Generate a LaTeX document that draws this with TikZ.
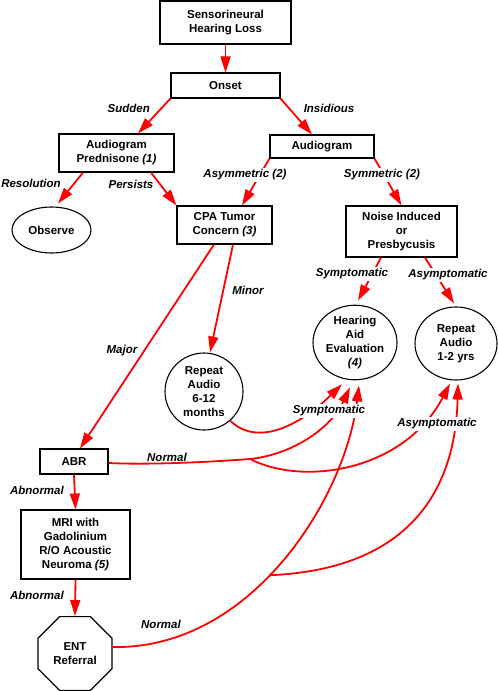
\documentclass[tikz,border=0pt]{standalone}
\usepackage{fontspec}
\setmainfont{Liberation Sans}
\usetikzlibrary{arrows.meta,shapes.geometric}
\newcommand{\nodefnt}{\fontsize{11.5}{14}\selectfont\bfseries}
\newcommand{\labfnt}{\fontsize{11.5}{14}\selectfont\bfseries\itshape}
\tikzset{
  box/.style={draw=black, line width=1.1pt, fill=white, rectangle, inner sep=0pt, align=center, font=\nodefnt},
  oval/.style={draw=black, line width=1.1pt, fill=white, ellipse, inner sep=0pt, align=center, font=\nodefnt},
  octa/.style={draw=black, line width=1.1pt, fill=white, regular polygon, regular polygon sides=8, inner sep=0pt, minimum size=80pt, align=center, font=\nodefnt},
  lab/.style={font=\labfnt, inner sep=1pt},
  labw/.style={lab, fill=white, inner sep=1.5pt},
  arr/.style={draw=red, line width=1.8pt, -{Triangle[length=16pt,width=10pt]}},
}
\begin{document}
\begin{tikzpicture}[x=1pt,y=-1pt]
\fill[white] (0,0) rectangle (498,691);
\path[use as bounding box] (0,0) rectangle (498,691);
% nodes
\node[box, minimum width=131pt, minimum height=43pt] (shl) at (225.5,22.5) {Sensorineural\\Hearing Loss};
\node[box, minimum width=109pt, minimum height=25pt] (onset) at (225.5,85.5) {Onset};
\node[box, minimum width=115pt, minimum height=38pt] (aud1) at (116.5,153) {Audiogram\\Prednisone \textit{(1)}};
\node[box, minimum width=104pt, minimum height=23pt] (aud2) at (322,146.5) {Audiogram};
\node[oval, minimum width=79pt, minimum height=46pt] (observe) at (51.5,230) {Observe};
\node[box, minimum width=95pt, minimum height=38pt] (cpa) at (224.5,225) {CPA Tumor\\Concern \textit{(3)}};
\node[box, minimum width=111pt, minimum height=51pt] (noise) at (401.5,231.5) {Noise Induced\\or\\Presbycusis};
\node[oval, minimum width=78pt, minimum height=77pt] (rep6) at (204,391.5) {Repeat\\Audio\\6-12\\months};
\node[oval, minimum width=84pt, minimum height=71pt] (ha) at (355,342.5) {Hearing\\Aid\\Evaluation\\\textit{(4)}};
\node[oval, minimum width=82pt, minimum height=73pt] (r12) at (456,343.5) {Repeat\\Audio\\1-2 yrs};
\node[box, minimum width=68pt, minimum height=25pt] (abr) at (74,461.5) {ABR};
\node[box, minimum width=109pt, minimum height=69pt] (mri) at (75.5,544.5) {MRI with\\Gadolinium\\R/O Acoustic\\Neuroma \textit{(5)}};
\node[octa] (ent) at (75,653.5) {ENT\\Referral};
% straight connectors
\draw[arr] (shl.south) -- (onset.north);
\draw[arr] (onset.south west) -- ([xshift=21.5pt]aud1.north);
\draw[arr] (onset.south east) -- ([xshift=-10pt]aud2.north);
\draw[arr] ([xshift=-33.5pt]aud1.south) -- ([shift={(6.5pt,3pt)}]observe.north);
\draw[arr] ([xshift=34.5pt]aud1.south) -- (cpa.north west);
\draw[arr] (aud2.south west) -- ([xshift=17.5pt]cpa.north);
\draw[arr] (aud2.south east) -- (noise.north);
\draw[arr] ([xshift=-10.5pt]cpa.south) -- ([xshift=6pt]abr.north);
\draw[arr] ([xshift=8.5pt]cpa.south) -- ([xshift=6pt]rep6.north);
\draw[arr] ([xshift=-20.5pt]noise.south) -- ([shift={(3pt,4pt)}]ha.north);
\draw[arr] ([xshift=23.5pt]noise.south) -- ([shift={(-2pt,3pt)}]r12.north);
\draw[arr] (abr.south) -- (mri.north);
\draw[arr] (mri.south) -- (ent.north);
% curved connectors
\coordinate (fork1) at (250,459);
\draw[arr] (rep6.312) .. controls (255,445) and (295,430) .. ([shift={(-13pt,-4pt)}]ha.south);
\draw[arr] ([yshift=-1.5pt]abr.east) .. controls (150,465) and (210,462) .. (fork1)
  .. controls (290,455) and (330,430) .. ([shift={(-5pt,-7pt)}]ha.south);
\draw[arr] (fork1) .. controls (305,487) and (405,470) .. ([shift={(-6pt,-3pt)}]r12.south);
\draw[arr] ([yshift=6.5pt]ent.east) .. controls (250,650) and (345,500) .. ([shift={(4pt,-5pt)}]ha.south) coordinate[pos=0.45] (fork2);
\draw[arr] (fork2) .. controls (400,570) and (455,500) .. ([shift={(2pt,-3pt)}]r12.south);
% labels
\node[lab, anchor=east] (lsud) at (151,108) {Sudden};
\node[lab] (lins) at (329,108) {Insidious};
\node[lab] (lres) at (31,183) {Resolution};
\node[lab] (lper) at (131,184) {Persists};
\node[labw] (lasy) at (245,175) {Asymmetric (2)};
\node[labw] (lsym) at (382,175) {Symmetric (2)};
\node[lab] (lmaj) at (122,351) {Major};
\node[lab] (lmin) at (248,290) {Minor};
\node[labw] (lsy1) at (352,274) {Symptomatic};
\node[labw] (las1) at (448,275) {Asymptomatic};
\node[labw] (lsy2) at (329,411) {Symptomatic};
\node[labw] (las2) at (437,424) {Asymptomatic};
\node[lab] (lno1) at (167,457) {Normal};
\node[lab] (lno2) at (161,624) {Normal};
\node[lab, anchor=east] (lab1) at (65,490) {Abnormal};
\node[lab, anchor=east] (lab2) at (65,595) {Abnormal};
\end{tikzpicture}
\end{document}
